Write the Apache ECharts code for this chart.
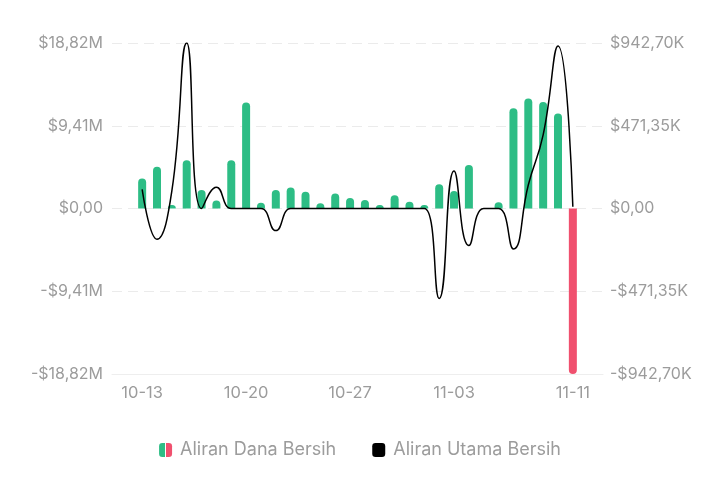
<!DOCTYPE html>
<html>
<head>
<meta charset="utf-8">
<script src="https://cdn.jsdelivr.net/npm/echarts@6/dist/echarts.min.js"></script>
<style>
  html, body { margin: 0; padding: 0; background: #ffffff; }
  #chart { width: 720px; height: 503px; }
</style>
</head>
<body>
<div id="chart"></div>
<script>
// ---- data ----
const dates = ['10-13','10-14','10-15','10-16','10-17','10-18','10-19','10-20','10-21','10-22',
               '10-23','10-24','10-25','10-26','10-27','10-28','10-29','10-30','10-31','11-01',
               '11-02','11-03','11-04','11-05','11-06','11-07','11-08','11-09','11-10','11-11'];
// Aliran Dana Bersih (USD)
const netFlow = [3.4e6, 4.75e6, 0.4e6, 5.5e6, 2.1e6, 0.9e6, 5.5e6, 12.05e6, 0.65e6, 2.1e6,
                 2.4e6, 1.9e6, 0.6e6, 1.7e6, 1.2e6, 0.97e6, 0.4e6, 1.5e6, 0.77e6, 0.4e6,
                 2.75e6, 2.0e6, 4.95e6, 0, 0.7e6, 11.4e6, 12.5e6, 12.1e6, 10.8e6, -18.82e6];
// Aliran Utama Bersih (USD)
const mainFlow = [109e3, -175e3, 100e3, 942.7e3, 0, 121e3, 0, 0, 0, -126e3,
                  0, 0, 0, 0, 0, 0, 0, 0, 0, 0,
                  -512e3, 213e3, -211e3, 0, 0, -231e3, 134e3, 419e3, 925e3, 10e3];
const xTickLabels = ['10-13','10-20','10-27','11-03','11-11'];
const leftTicks = { min: -18.82e6, max: 18.82e6, interval: 9.41e6 };
const rightTicks = { min: -942.7e3, max: 942.7e3, interval: 471.35e3 };
const seriesNames = ['Aliran Dana Bersih', 'Aliran Utama Bersih'];

// ---- helpers ----
const GREEN = '#2DBD85', RED = '#F0506E', GRAY = '#9c9c9c';
function fmtMoney(v, div, unit) {
  if (Math.abs(v) < 1e-6 * div) return '$0,00';
  const s = (Math.abs(v) / div).toFixed(2).replace('.', ',');
  return (v < 0 ? '-' : '') + '$' + s + unit;
}
const PAD = 2.03; // side padding of the x range, in days

const barData = dates.map((d, i) => ({
  value: [i, netFlow[i]],
  itemStyle: {
    color: netFlow[i] >= 0 ? GREEN : RED,
    borderRadius: netFlow[i] >= 0 ? [4, 4, 0, 0] : [0, 0, 4, 4]
  }
}));
const lineData = dates.map((d, i) => [i, mainFlow[i]]);

const chart = echarts.init(document.getElementById('chart'), null, { renderer: 'canvas' });
const font = 'Inter, "Noto Sans", sans-serif';
chart.setOption({
  animation: false,
  textStyle: { fontFamily: font },
  grid: { left: 112, right: 117, top: 43, bottom: 129, containLabel: false },
  legend: {
    bottom: 39,
    left: 'center',
    itemGap: 36,
    itemWidth: 13,
    itemHeight: 14,
    textStyle: { color: GRAY, fontSize: 18, fontFamily: font, padding: [0, 0, 0, 3] },
    data: [
      { name: seriesNames[0], icon: 'roundRect',
        itemStyle: { color: new echarts.graphic.LinearGradient(0, 0, 1, 0, [
          { offset: 0, color: GREEN }, { offset: 0.44, color: GREEN },
          { offset: 0.44, color: '#ffffff' }, { offset: 0.56, color: '#ffffff' },
          { offset: 0.56, color: RED }, { offset: 1, color: RED }]) } },
      { name: seriesNames[1], icon: 'roundRect', itemStyle: { color: '#000000' } }
    ]
  },
  xAxis: {
    type: 'value',
    min: -PAD,
    max: dates.length - 1 + PAD,
    axisLine: { show: true, onZero: false, lineStyle: { color: '#eeeeee', width: 1 } },
    axisTick: { show: false },
    splitLine: { show: false },
    axisLabel: {
      customValues: xTickLabels.map(t => dates.indexOf(t)),
      formatter: v => dates[Math.round(v)] || '',
      color: GRAY, fontSize: 16.5, margin: 11, fontFamily: font
    }
  },
  yAxis: [
    {
      type: 'value', position: 'left',
      min: leftTicks.min, max: leftTicks.max, interval: leftTicks.interval,
      axisLine: { show: false }, axisTick: { show: false },
      axisLabel: { color: GRAY, fontSize: 16, margin: 9, fontFamily: font,
                   formatter: v => fmtMoney(v, 1e6, 'M') },
      splitLine: { show: true, lineStyle: { color: '#ebebeb', type: [10, 6], width: 1 } }
    },
    {
      type: 'value', position: 'right',
      min: rightTicks.min, max: rightTicks.max, interval: rightTicks.interval,
      axisLine: { show: false }, axisTick: { show: false },
      axisLabel: { color: GRAY, fontSize: 16, margin: 7, fontFamily: font,
                   formatter: v => fmtMoney(v, 1e3, 'K') },
      splitLine: { show: false }
    }
  ],
  series: [
    {
      name: seriesNames[0], type: 'bar', yAxisIndex: 0,
      barWidth: 8, data: barData, z: 2
    },
    {
      name: seriesNames[1], type: 'line', yAxisIndex: 1,
      smooth: true, symbol: 'none', data: lineData, z: 3,
      lineStyle: { color: '#000000', width: 1.5 },
      itemStyle: { color: '#000000' }
    }
  ]
});
</script>
</body>
</html>
